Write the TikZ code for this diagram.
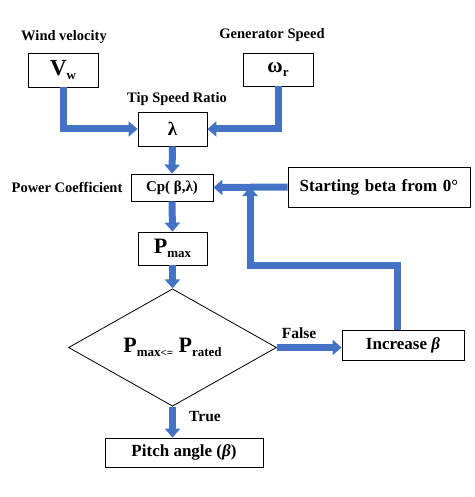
\documentclass[tikz,border=0pt]{standalone}
\usepackage{fontspec}
\setmainfont{Liberation Serif}
\usepackage{xcolor}
\usepackage{tikz}
\usetikzlibrary{arrows.meta,calc,positioning,shapes.geometric}
\definecolor{flowblue}{HTML}{4472C4}
\tikzstyle{box}=[draw,line width=0.8pt,inner sep=0pt,font=\bfseries]
\tikzstyle{flow}=[draw=flowblue,line width=7pt,line join=miter,-{Triangle[width=15pt,length=9pt]}]
\tikzstyle{lbl}=[inner sep=0pt,font=\bfseries\fontsize{14.5}{16}\selectfont]
\newcommand{\lowsub}[2][13]{\raisebox{-0.45ex}{\fontsize{#1}{#1}\selectfont #2}}

\begin{document}
\begin{tikzpicture}[x=1pt,y=-1pt]
\useasboundingbox (0,0) rectangle (474,497);
%\draw[help lines,step=50] (0,0) grid (474,497);
\node[box,minimum width=70pt,minimum height=34pt,font=\bfseries\fontsize{23}{23}\selectfont](vw) at (63,70){V\lowsub{w}};
\node[box,minimum width=70pt,minimum height=33pt,font=\bfseries\fontsize{21}{21}\selectfont](wr) at (278,69.5){ω\lowsub{r}};
\node[box,minimum width=69pt,minimum height=34pt,font=\bfseries\fontsize{19}{19}\selectfont](lam) at (172.5,129){λ};
\node[box,minimum width=82pt,minimum height=27pt,font=\bfseries\fontsize{15}{15}\selectfont](cp) at (172,187.5){Cp( β,λ)};
\node[box,minimum width=182pt,minimum height=40pt,font=\bfseries\fontsize{17}{17}\selectfont](start) at (379,187){Starting\,\,beta\,\,from\,\,0°};
\node[box,minimum width=69pt,minimum height=33pt,font=\bfseries\fontsize{22}{22}\selectfont](pmax) at (172.5,248.5){P\lowsub{max}};
\node[box,shape=diamond,minimum width=208pt,minimum height=97pt,font=\bfseries\fontsize{22}{22}\selectfont](test) at (172.5,347.5){P\lowsub{max}\lowsub[11]{<=} P\lowsub{rated}};
\node[box,minimum width=122pt,minimum height=30pt,font=\bfseries\fontsize{17}{17}\selectfont](inc) at (403,345){Increase \textit{β}};
\node[box,minimum width=158pt,minimum height=29pt,font=\bfseries\fontsize{17}{17}\selectfont](pitch) at (184,452.5){Pitch angle (\textit{β})};
% labels
\node[lbl](one) at (64,37){Wind velocity};
\node[lbl](two) at (272,35){Generator Speed};
\node[lbl](three) at (177,99){Tip Speed Ratio};
\node[lbl](four) at (67,187){Power Coefficient};
\node[lbl,font=\bfseries\fontsize{15.5}{16}\selectfont](five) at (299,333){False};
\node[lbl,font=\bfseries\fontsize{15.5}{16}\selectfont](six) at (205,417){True};
% arrows
\draw[flow] (vw.south) |- (lam.west);
\draw[flow] (wr.south) |- (lam.east);
\draw[flow] (lam.south) -- (cp.north);
\draw[flow] (start.west) -- (cp.east);
\draw[flow] (cp.south) -- (pmax.north);
\draw[flow] (pmax.south) -- (test.north);
\draw[flow] (test.east) -- (test.east -| inc.west);
\draw[flow] (test.south) -- (test.south |- pitch.north);
\coordinate (back) at (250,265);
\draw[flow] ([xshift=-6pt]inc.north) |- (back) -- (back |- start.west);
\end{tikzpicture}
\end{document}
